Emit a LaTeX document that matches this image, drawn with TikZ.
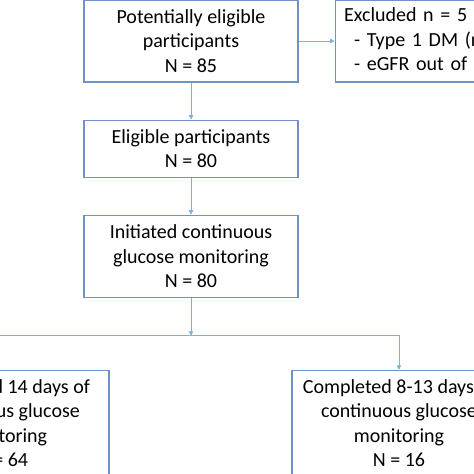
\documentclass[tikz,border=0pt]{standalone}
\usepackage{fontspec}
\setmainfont{Carlito}
\usepackage{xcolor}
\usetikzlibrary{positioning, arrows.meta}
\definecolor{boxblue}{HTML}{6F93C6}
\definecolor{lineblue}{HTML}{7DB0E2}
\tikzset{
  flowbox/.style = {draw=boxblue, line width=1.1pt, minimum width=214pt,
                    minimum height=#1, align=center, inner sep=0pt,
                    font=\fontsize{20}{24.5}\selectfont},
  exclbox/.style = {flowbox=82pt, align=left, text width=196pt},
  flowline/.style = {draw=lineblue, line width=1pt},
  >={Triangle[length=4.5pt, width=4.5pt]}
}

\begin{document}
\begin{tikzpicture}
  \useasboundingbox (0pt,0pt) rectangle (474pt,-474pt);
  \clip (0pt,0pt) rectangle (474pt,-474pt);

  % main column
  \node[flowbox=82pt] (pot) at (191pt,-41pt)
    {Potentially eligible\\participants\\N = 85};
  \node[flowbox=57pt, below=37pt of pot] (elig)
    {Eligible participants\\N = 80};
  \node[flowbox=82pt, below=37pt of elig] (init)
    {Initiated continuous\\glucose monitoring\\N = 80};

  % excluded
  \node[exclbox, right=36pt of pot] (excl)
    {Excluded n = 5\\\hspace*{10pt}- Type 1 DM (n\\\hspace*{10pt}- eGFR out of range};

  % split into the two groups
  \coordinate[below=38pt of init] (split);
  \node[flowbox=106pt, anchor=north] (full) at ([xshift=-189pt, yshift=-34pt]split)
    {Completed 14 days of\\continuous glucose\\monitoring\\N = 64};
  \node[flowbox=106pt, anchor=north] (part) at ([xshift=208pt, yshift=-34pt]split)
    {Completed 8-13 days of\\continuous glucose\\monitoring\\N = 16};

  % arrows
  \draw[flowline, ->] (pot) -- (excl);
  \draw[flowline, ->] (pot) -- (elig);
  \draw[flowline, ->] (elig) -- (init);
  \draw[flowline, ->] (init) -- (split);
  \draw[flowline, ->] (split) -| ([xshift=-19pt]full.north);
  \draw[flowline, ->] (split) -| (part.north);
\end{tikzpicture}
\end{document}
